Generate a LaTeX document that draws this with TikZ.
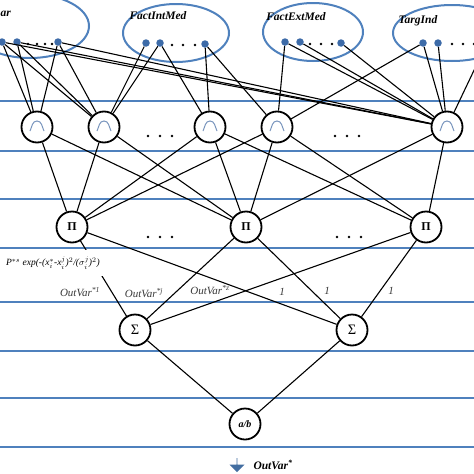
\documentclass[tikz,border=0pt]{standalone}
\usepackage{fontspec}
\setmainfont{Liberation Serif}
\usepackage{tikz}
\usetikzlibrary{shapes.arrows, positioning}
\definecolor{LayerBlue}{HTML}{4F81BD}
\definecolor{DotBlue}{HTML}{3D6BA8}
\definecolor{BumpBlue}{HTML}{7A96BE}
\definecolor{LabelGray}{HTML}{3A3A3A}

\tikzset{
  layer/.style={LayerBlue, line width=2.6pt},
  group/.style={LayerBlue, line width=2pt},
  indot/.style={circle, fill=DotBlue, inner sep=0pt, minimum size=7.5pt},
  smalldot/.style={circle, fill=black, inner sep=0pt, minimum size=2.8pt},
  link/.style={black, line width=1.1pt},
  neuron/.style={circle, draw, line width=1.8pt, fill=white, inner sep=0pt, minimum size=31pt},
  mfnode/.style={neuron, path picture={
      \draw[BumpBlue, line width=1pt]
        ([shift={(-7pt,-4pt)}]path picture bounding box.center)
        to[out=65, in=180] ++(7pt,10pt) to[out=0, in=115] ++(7pt,-10pt);}},
  grouplabel/.style={font=\fontsize{11.5}{12}\selectfont\bfseries\itshape},
  wlabel/.style={font=\fontsize{11}{12}\selectfont\itshape, text=LabelGray, inner sep=1pt}
}

\begin{document}
\begin{tikzpicture}[x=1pt, y=-1pt]
    \useasboundingbox (0,0) rectangle (474,474);
    \clip (0,0) rectangle (474,474);
    \fill[white] (0,0) rectangle (474,474);
    % layer borders
    \foreach \y in {101,151,199,248,302,351,398,447}
        \draw[layer] (-5,\y) -- (480,\y);
    % input groups
    \draw[group] (30,26) ellipse [x radius=59, y radius=32];
    \draw[group] (176,33) ellipse [x radius=53, y radius=29];
    \draw[group] (313,32) ellipse [x radius=50, y radius=29];
    \draw[group] (452,33) ellipse [x radius=59, y radius=28];
    \node[grouplabel, anchor=west, inner sep=0.5pt] (lbl1) at (0,14) {ar};
    \node[grouplabel] (lbl2) at (158,16) {FactIntMed};
    \node[grouplabel] (lbl3) at (296,17) {FactExtMed};
    \node[grouplabel] (lbl4) at (418,21) {TargInd};
    % input values
    \node[indot] (a1) at (2,42) {};
    \node[indot] (a2) at (17,42) {};
    \node[indot] (a3) at (58,42) {};
    \node[indot] (b1) at (146,43) {};
    \node[indot] (b2) at (160,43) {};
    \node[indot] (b3) at (205,44) {};
    \node[indot] (c1) at (285,42) {};
    \node[indot] (c2) at (300,42) {};
    \node[indot] (c3) at (341,43) {};
    \node[indot] (t1) at (423,43) {};
    \node[indot] (t2) at (438,43) {};
    \node[indot] (t3) at (487,43) {};
    \foreach \x in {28,37,45,52} \node[smalldot] at (\x,44) {};
    \foreach \x in {172,183,195} \node[smalldot] at (\x,45) {};
    \foreach \x in {310,321,332} \node[smalldot] at (\x,44) {};
    \foreach \x in {452,463,474} \node[smalldot] at (\x,44) {};
    % membership layer
    \node[mfnode] (m1) at (37,127) {};
    \node[mfnode] (m2) at (104,127) {};
    \node[mfnode] (m3) at (210,127) {};
    \node[mfnode] (m4) at (277,127) {};
    \node[mfnode] (m5) at (447,127) {};
    \foreach \x in {148,160,172,335,347,359} \node[smalldot] at (\x,136) {};
    % rule layer
    \node[neuron, font=\bfseries\large] (p1) at (72,227) {Π};
    \node[neuron, font=\bfseries\large] (p2) at (246,227) {Π};
    \node[neuron, font=\bfseries\large] (p3) at (426,227) {Π};
    \foreach \x in {148,160,172,337,349,361} \node[smalldot] at (\x,237) {};
    % sum layer
    \node[neuron, font=\Large] (s1) at (135,330) {Σ};
    \node[neuron, font=\Large] (s2) at (352,330) {Σ};
    % division
    \node[neuron, font=\itshape\bfseries] (q) at (245,424) {a/b};
    % inputs to membership functions
    \foreach \d in {a1,a2,a3} \draw[link] (\d) -- (m1);
    \foreach \d in {a1,a2,a3,b1,b2} \draw[link] (\d) -- (m2);
    \foreach \d in {b2,b3} \draw[link] (\d) -- (m3);
    \foreach \d in {b3,c1,t1} \draw[link] (\d) -- (m4);
    \foreach \d in {a1,a2,a3,c1,c2,c3,t1,t2,t3} \draw[link] (\d) -- (m5);
    % membership functions to rules
    \foreach \m in {m1,m2,m3,m4} \draw[link] (\m) -- (p1);
    \foreach \m in {m1,m2,m3,m4,m5} \draw[link] (\m) -- (p2);
    \foreach \m in {m3,m4,m5} \draw[link] (\m) -- (p3);
    % rules to sums
    \foreach \p in {p1,p2,p3} {
        \draw[link] (\p) -- (s1);
        \draw[link] (\p) -- (s2);
    }
    \draw[link] (s1) -- (q);
    \draw[link] (s2) -- (q);
    % rule output formula
    \node[fill=white, inner xsep=3pt, inner ysep=7pt, anchor=east, font=\fontsize{9.5}{10}\selectfont\itshape] (fx) at (103,263)
        {P$^{*s}$ exp(-(x$_i^{*}$-x$_i^{j}$)$^2$/($\sigma_i^j$)$^2$)};
    % weights
    \node[wlabel] (w1) at (80,292) {OutVar\textsuperscript{*1}};
    \node[wlabel] (wj) at (144,293) {OutVar\textsuperscript{*j}};
    \node[wlabel] (wz) at (210,290) {OutVar\textsuperscript{*z}};
    \node[wlabel] (u1) at (282,292) {1};
    \node[wlabel] (u2) at (327,291) {1};
    \node[wlabel] (u3) at (391,291) {1};
    % output
    \node[single arrow, shape border rotate=270, fill=LayerBlue!85!black, inner sep=0pt,
          minimum height=14pt, minimum width=15pt, single arrow head extend=3.5pt] (dn) at (237,465) {};
    \node[font=\fontsize{11.5}{12}\selectfont\bfseries\itshape, anchor=west] (out) at (250,465) {OutVar\textsuperscript{*}};
\end{tikzpicture}
\end{document}
